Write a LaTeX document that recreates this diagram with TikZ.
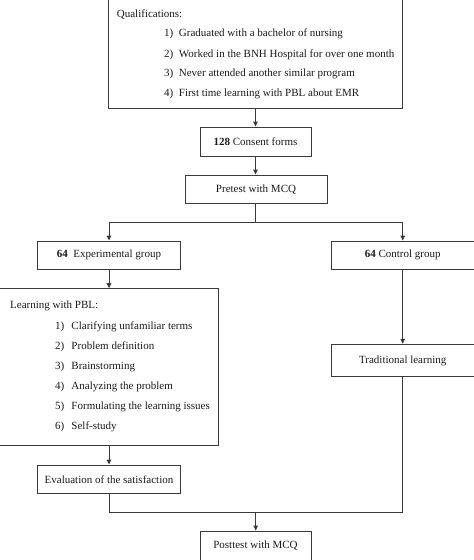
\documentclass[tikz,border=0pt]{standalone}
\usepackage{fontspec}
\setmainfont{Liberation Serif}
\usetikzlibrary{arrows.meta}
\definecolor{linec}{HTML}{3A3A3A}
\definecolor{txtc}{HTML}{1A1A1A}
\begin{document}
\begin{tikzpicture}[x=1pt,y=-1pt,
  box/.style={draw=linec, line width=1pt, inner sep=0pt, text=txtc,
    font=\fontsize{11}{13}\selectfont},
  txt/.style={anchor=west, inner sep=0pt, text=txtc, font=\fontsize{11}{13}\selectfont},
  conn/.style={draw=linec, line width=1pt},
  arr/.style={conn, -{Triangle[length=5pt,width=4.5pt]}}
]
\useasboundingbox (0,0) rectangle (474,560);
% boxes
\node[box, minimum width=293.7pt, minimum height=128.3pt] (qual) at (255.8,44) {};
\node[box, minimum width=111pt, minimum height=29pt] (consent) at (255.5,141.5) {\textbf{128} Consent forms};
\node[box, minimum width=142pt, minimum height=28.3pt] (pretest) at (256,189.2) {Pretest with MCQ};
\node[box, minimum width=142.6pt, minimum height=28.3pt] (exp) at (109,255.2) {\textbf{64}\enspace Experimental group};
\node[box, minimum width=143.4pt, minimum height=28.3pt] (ctrl) at (402.7,255.2) {\textbf{64} Control group};
\node[box, minimum width=220.3pt, minimum height=157pt] (pbl) at (108.2,367.2) {};
\node[box, minimum width=143.4pt, minimum height=32.4pt] (trad) at (402.7,360.5) {Traditional learning};
\node[box, minimum width=142.6pt, minimum height=28.3pt] (eval) at (109,479.2) {Evaluation of the satisfaction};
\node[box, minimum width=111pt, minimum height=29pt] (post) at (255.5,545.5) {Posttest with MCQ};
% texts in qualification box
\node[txt] (q0) at (116.7,14.7) {Qualifications:};
\node[txt] (q1) at (164,34.3) {\makebox[14.7pt][l]{1)}Graduated with a bachelor of nursing};
\node[txt] (q2) at (164,54.3) {\makebox[14.7pt][l]{2)}Worked in the BNH Hospital for over one month};
\node[txt] (q3) at (164,74.3) {\makebox[14.7pt][l]{3)}Never attended another similar program};
\node[txt] (q4) at (164,94.3) {\makebox[14.7pt][l]{4)}First time learning with PBL about EMR};
% texts in PBL box
\node[txt] (p0) at (10,306) {Learning with PBL:};
\node[txt] (p1) at (55,327) {\makebox[16.3pt][l]{1)}Clarifying unfamiliar terms};
\node[txt] (p2) at (55,347) {\makebox[16.3pt][l]{2)}Problem definition};
\node[txt] (p3) at (55,367) {\makebox[16.3pt][l]{3)}Brainstorming};
\node[txt] (p4) at (55,387) {\makebox[16.3pt][l]{4)}Analyzing the problem};
\node[txt] (p5) at (55,407) {\makebox[16.3pt][l]{5)}Formulating the learning issues};
\node[txt] (p6) at (55,427) {\makebox[16.3pt][l]{6)}Self-study};
% junctions
\coordinate (j1) at (255.7,222);
\coordinate (j2) at (255.7,512.3);
% connectors
\draw[arr] (qual.south -| consent.north) -- (consent.north);
\draw[arr] (consent.south) -- (consent.south |- pretest.north);
\draw[conn] (pretest.south -| j1) -- (j1);
\draw[arr] (j1) -| (exp.north);
\draw[arr] (j1) -| (ctrl.north);
\draw[arr] (exp.south) -- (exp.south |- pbl.north);
\draw[arr] (pbl.south -| eval.north) -- (eval.north);
\draw[arr] (ctrl.south) -- (trad.north);
\draw[conn] (eval.south) |- (j2);
\draw[conn] (trad.south) |- (j2);
\draw[arr] (j2) -- (j2 |- post.north);
\end{tikzpicture}
\end{document}
